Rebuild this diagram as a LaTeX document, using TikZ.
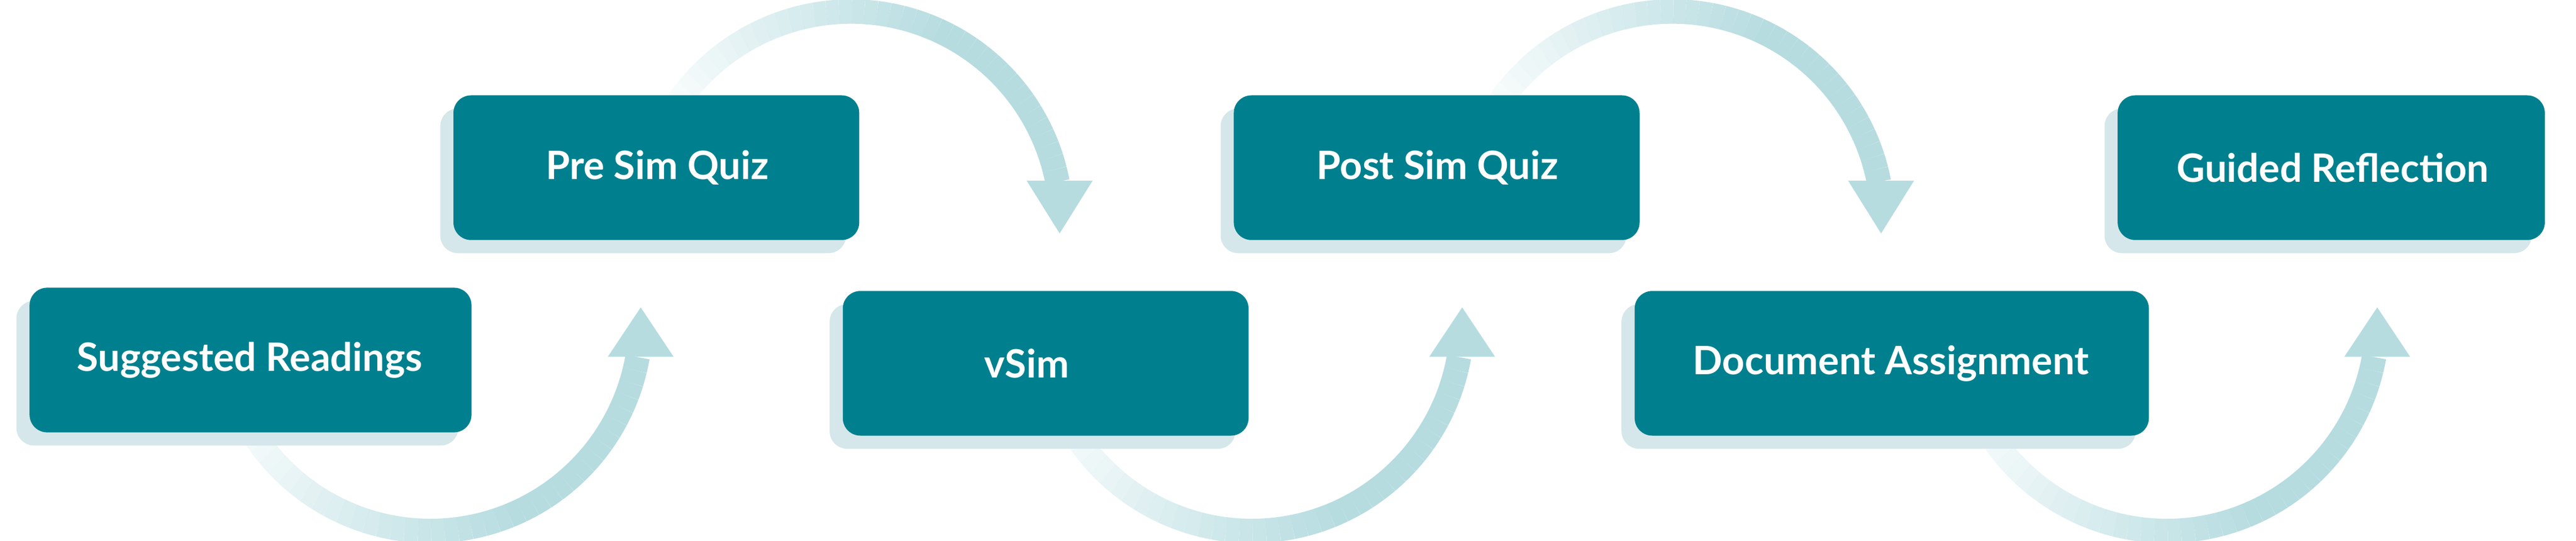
\documentclass[tikz,border=0pt]{standalone}
\usepackage{fontspec}
\setmainfont{Lato}
\definecolor{boxc}{HTML}{00808E}
\definecolor{shadc}{HTML}{D5E7EA}
\definecolor{arcc}{HTML}{B6DCE0}
\tikzset{
  box/.style={fill=boxc,rounded corners=9pt},
  shad/.style={fill=shadc,rounded corners=9pt},
  lbl/.style={text=white,font=\fontsize{20}{24}\selectfont\bfseries},
  head/.style={fill=arcc}
}
\newcommand{\fadearc}[4]{% cx cy start end
  \foreach \i in {0,...,39}{
    \pgfmathsetmacro{\aa}{#3+(#4-#3)*\i/40}
    \pgfmathsetmacro{\ab}{#3+(#4-#3)*(\i+1)/40}
    \pgfmathsetmacro{\op}{min(1,0.08+\i/26)}
    \draw[arcc,line width=12.5pt,opacity=\op] ({#1+128*cos(\aa)},{#2+128*sin(\aa)}) arc[start angle=\aa,end angle=\ab,radius=128];
  }}
\begin{document}
\begin{tikzpicture}[x=0.02957cm,y=-0.02957cm]
\useasboundingbox (0,0) rectangle (1568,329);
% arcs
\fadearc{262}{195}{155}{10}
\fadearc{762}{195}{155}{10}
\fadearc{1319}{195}{155}{10}
\fadearc{518}{135}{212}{349}
\fadearc{1018}{135}{212}{349}
\fill[head] (390,187) -- (370,217) -- (410,217) -- cycle;
\fill[head] (890,187) -- (870,217) -- (910,217) -- cycle;
\fill[head] (1447,187) -- (1427,217) -- (1467,217) -- cycle;
\fill[head] (645,142) -- (625,110) -- (665,110) -- cycle;
\fill[head] (1145,142) -- (1125,110) -- (1165,110) -- cycle;
% shadows
\fill[shad] (10,183) rectangle (279,271);
\fill[shad] (268,66) rectangle (515,154);
\fill[shad] (505,185) rectangle (752,273);
\fill[shad] (743,66) rectangle (990,154);
\fill[shad] (987,185) rectangle (1300,273);
\fill[shad] (1281,66) rectangle (1541,154);
% boxes
\fill[box] (18,175) rectangle (287,263);
\fill[box] (276,58) rectangle (523,146);
\fill[box] (513,177) rectangle (760,265);
\fill[box] (751,58) rectangle (998,146);
\fill[box] (995,177) rectangle (1308,265);
\fill[box] (1289,58) rectangle (1549,146);
\node[lbl] (sr) at (152,219) {Suggested Readings};
\node[lbl] (pre) at (400,102) {Pre Sim Quiz};
\node[lbl] (vsim) at (625,221) {vSim};
\node[lbl] (post) at (875,102) {Post Sim Quiz};
\node[lbl] (doc) at (1151,221) {Document Assignment};
\node[lbl] (gr) at (1420,102) {Guided Reflection};
\end{tikzpicture}
\end{document}
